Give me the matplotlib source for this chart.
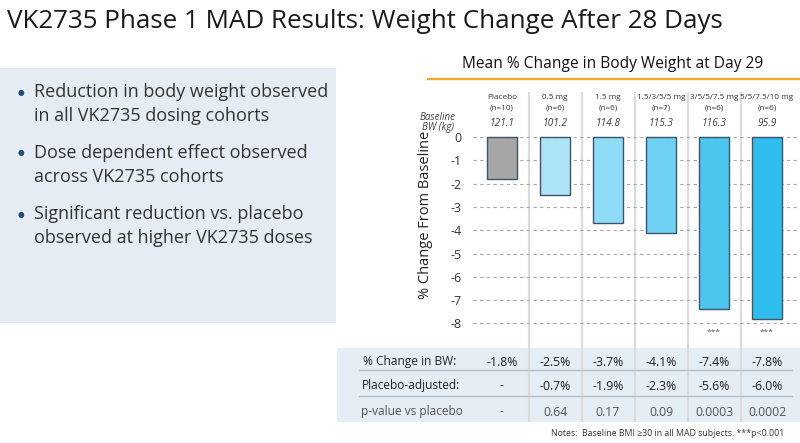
import matplotlib
matplotlib.use("Agg")
import matplotlib.pyplot as plt
from matplotlib.patches import Rectangle
from matplotlib.lines import Line2D

plt.rcParams['font.family'] = ['Open Sans', 'DejaVu Sans']

# ---- data ----
groups = ["Placebo", "0.5 mg", "1.5 mg", "1.5/3/5/5 mg", "3/5/5/7.5 mg", "5/5/7.5/10 mg"]
n_subjects = [10, 6, 6, 7, 6, 6]
baseline_bw = ["121.1", "101.2", "114.8", "115.3", "116.3", "95.9"]
pct_change = [-1.8, -2.5, -3.7, -4.1, -7.4, -7.8]
placebo_adjusted = ["-", "-0.7%", "-1.9%", "-2.3%", "-5.6%", "-6.0%"]
p_values = ["-", "0.64", "0.17", "0.09", "0.0003", "0.0002"]
significance = ["", "", "", "", "***", "***"]
bar_colors = ["#a6a6a6", "#ade3f7", "#8fdcf6", "#6dd1f3", "#4cc5ef", "#2fbdee"]
yticks = [0, -1, -2, -3, -4, -5, -6, -7, -8]
bullets = [
    ("Reduction in body weight observed", "in all VK2735 dosing cohorts"),
    ("Dose dependent effect observed", "across VK2735 cohorts"),
    ("Significant reduction vs. placebo", "observed at higher VK2735 doses"),
]
main_title = "VK2735 Phase 1 MAD Results: Weight Change After 28 Days"
chart_title = "Mean % Change in Body Weight at Day 29"
row_labels = ["% Change in BW:", "Placebo-adjusted:", "p-value vs placebo"]
notes = "Notes:  Baseline BMI \u226530 in all MAD subjects. ***p<0.001"

W, H = 800, 443
fig = plt.figure(figsize=(W / 100, H / 100), dpi=100)
fig.patch.set_facecolor("white")

def fx(x):
    return x / W

def fy(y):
    return 1 - y / H

# ---- main title ----
fig.text(fx(7), fy(21), main_title, ha="left", va="center", fontsize=18.7, color="#1a1a1a")

# ---- left panel ----
fig.patches.append(Rectangle((0, fy(323)), fx(336), fy(68) - fy(323), transform=fig.transFigure,
                             facecolor="#e6ecf3", edgecolor="none", zorder=-2))
line_y = [(92, 116), (153, 177), (214, 238)]
for (l1, l2), (y1, y2) in zip(bullets, line_y):
    fig.text(fx(21), fy(y1 + 1), "\u25CF", ha="center", va="center", fontsize=5.5, color="#1f4e79")
    fig.text(fx(34), fy(y1), l1, ha="left", va="center", fontsize=13, color="#333333")
    fig.text(fx(34), fy(y2), l2, ha="left", va="center", fontsize=13, color="#333333")

# ---- chart title & orange rule ----
fig.text(fx(613), fy(64), chart_title, ha="center", va="center", fontsize=11.2, color="#111111")
fig.lines.append(Line2D([fx(428), fx(800)], [fy(79), fy(79)], transform=fig.transFigure,
                        color="#f5a623", lw=1.6))

# ---- table background ----
fig.patches.append(Rectangle((fx(337), fy(422)), fx(800) - fx(337), fy(348) - fy(422),
                             transform=fig.transFigure, facecolor="#e5edf5", edgecolor="none", zorder=-2))
for yl in (370, 396):
    fig.lines.append(Line2D([fx(359), fx(792)], [fy(yl), fy(yl)], transform=fig.transFigure,
                            color="#b4bec8", lw=1.0))

# ---- chart axes ----
y0_px, unit_px = 137.0, 23.3
col0_px, col_px = 502.0, 53.0
ax_left, ax_right, ax_top, ax_bottom = 473, 800, 92, 422
ax = fig.add_axes([fx(ax_left), fy(ax_bottom), fx(ax_right) - fx(ax_left), fy(ax_top) - fy(ax_bottom)])
ax.set_facecolor("none")
ax.set_xlim((ax_left - col0_px) / col_px, (ax_right - col0_px) / col_px)
ax.set_ylim(-(ax_bottom - y0_px) / unit_px, (y0_px - ax_top) / unit_px)
for s in ax.spines.values():
    s.set_visible(False)

def v(ypx):
    return (y0_px - ypx) / unit_px

xs = list(range(len(groups)))
for i in range(len(groups) - 1):
    ax.axvline(i + 0.5, color="#dcdcdc", lw=1.6, zorder=1)
for t in yticks:
    ax.axhline(t, color="#a8a8a8", lw=0.8, ls=(0, (3, 3)), zorder=1)

ax.bar(xs, pct_change, width=0.55, color=bar_colors, edgecolor="#3d5566", linewidth=1.0, zorder=3)
for x, val, s in zip(xs, pct_change, significance):
    if s:
        ys = val - 0.38
        nearest = round(ys)
        if abs(ys - nearest) < 0.3 and nearest in yticks:
            ys = nearest - 0.37
        ax.text(x, ys, s, ha="center", va="center", fontsize=6, color="#555555")

ax.set_xticks([])
ax.set_yticks(yticks)
ax.set_yticklabels([str(t) if t == 0 else "-" + str(-t) for t in yticks], fontsize=9, color="#333333")
ax.tick_params(axis="y", length=0, pad=8)
ax.set_ylabel("% Change From Baseline", fontsize=10.5, color="#222222")
ax.yaxis.set_label_coords((433 - ax_left) / (ax_right - ax_left), (ax_bottom - 215) / (ax_bottom - ax_top))

# headers
for x, g, n, b in zip(xs, groups, n_subjects, baseline_bw):
    ax.text(x, v(97), g, ha="center", va="center", fontsize=5.9, color="#333333")
    ax.text(x, v(107.5), f"(n={n})", ha="center", va="center", fontsize=5.9, color="#333333")
    ax.text(x, v(123), b, ha="center", va="center", fontsize=7.3, style="italic", color="#404040")
fig.text(fx(438), fy(117), "Baseline", ha="center", va="center", fontsize=7, style="italic", color="#404040")
fig.text(fx(438), fy(128), "BW (kg)", ha="center", va="center", fontsize=7, style="italic", color="#404040")

# table rows
for x, c, pa, pv in zip(xs, pct_change, placebo_adjusted, p_values):
    ax.text(x, v(362), f"{c:.1f}%", ha="center", va="center", fontsize=8.8, color="#222222")
    ax.text(x, v(386), pa, ha="center", va="center", fontsize=8.8, color="#222222")
    ax.text(x, v(412), pv, ha="center", va="center", fontsize=8.8, color="#555555")
fig.text(fx(363), fy(362), row_labels[0], ha="left", va="center", fontsize=8.6, color="#222222")
fig.text(fx(362), fy(386), row_labels[1], ha="left", va="center", fontsize=8.6, color="#222222")
fig.text(fx(361), fy(412), row_labels[2], ha="left", va="center", fontsize=8.6, color="#555555")

fig.text(fx(784), fy(433), notes, ha="right", va="center", fontsize=6.3, color="#333333")

fig.savefig("out.png", dpi=100, facecolor="white")
